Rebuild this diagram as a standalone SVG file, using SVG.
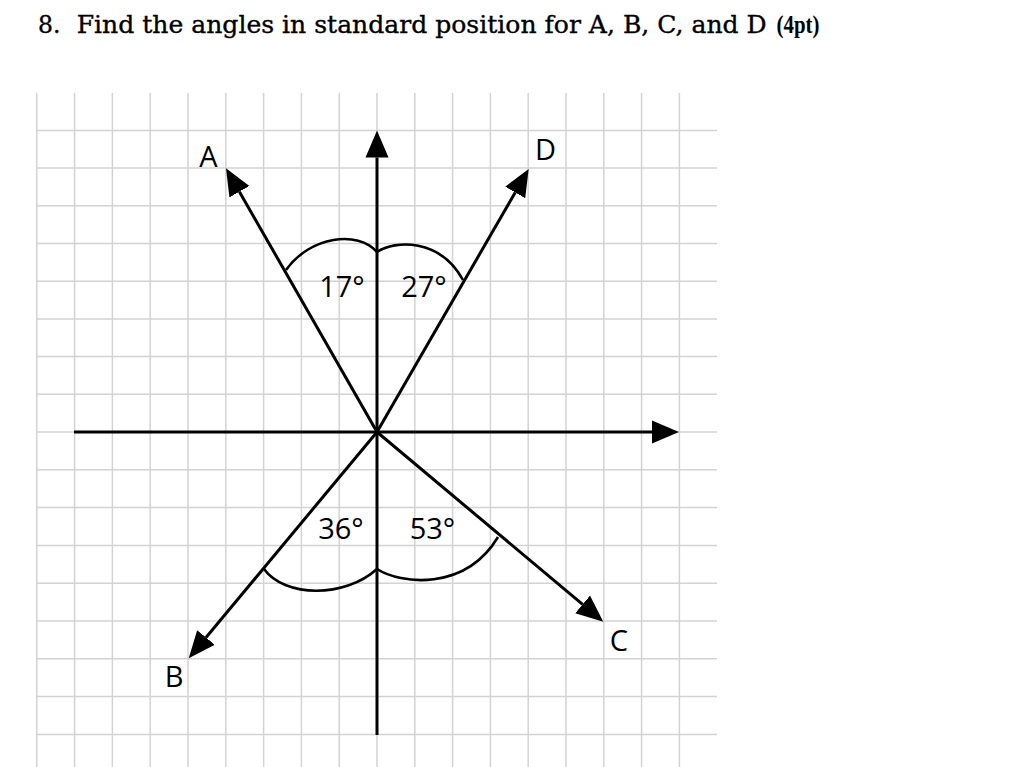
<svg xmlns="http://www.w3.org/2000/svg" width="1024" height="767" viewBox="0 0 1024 767">
<style>
.grid line{stroke:#d3d3d3;stroke-width:1.5}
.axis{stroke:#000;stroke-width:3;fill:none}
.arc{stroke:#000;stroke-width:2.6;fill:none}
.lbl{font-family:"Open Sans","Liberation Sans",sans-serif;font-size:29px;fill:#000;text-anchor:middle}
.title{font-family:"DejaVu Serif","Liberation Serif",serif;font-size:23.5px;fill:#000;stroke:#000;stroke-width:0.35}
.bold{font-family:"Liberation Serif","DejaVu Serif",serif;font-size:26px;font-weight:bold;fill:#000}
</style>
<defs>
<marker id="arr" markerUnits="userSpaceOnUse" markerWidth="30" markerHeight="26" refX="0" refY="12" orient="auto" viewBox="0 0 30 24">
<path d="M0,0.5 L27,12 L0,23.5 z" fill="#000"/>
</marker>
</defs>
<rect width="1024" height="767" fill="#fff"/>
<g id="title">
<text class="title" x="38" y="33">8.</text>
<text class="title" x="76.7" y="33" textLength="690" lengthAdjust="spacingAndGlyphs">Find the angles in standard position for A, B, C, and D</text>
<text class="bold" x="776.5" y="33" textLength="43" lengthAdjust="spacingAndGlyphs">(4pt)</text>
</g>
<g id="grid" class="grid">
<line x1="36.8" y1="93" x2="36.8" y2="767"/>
<line x1="74.6" y1="93" x2="74.6" y2="767"/>
<line x1="112.4" y1="93" x2="112.4" y2="767"/>
<line x1="150.2" y1="93" x2="150.2" y2="767"/>
<line x1="188" y1="93" x2="188" y2="767"/>
<line x1="225.8" y1="93" x2="225.8" y2="767"/>
<line x1="263.6" y1="93" x2="263.6" y2="767"/>
<line x1="301.4" y1="93" x2="301.4" y2="767"/>
<line x1="339.2" y1="93" x2="339.2" y2="767"/>
<line x1="377" y1="93" x2="377" y2="767"/>
<line x1="414.8" y1="93" x2="414.8" y2="767"/>
<line x1="452.6" y1="93" x2="452.6" y2="767"/>
<line x1="490.4" y1="93" x2="490.4" y2="767"/>
<line x1="528.2" y1="93" x2="528.2" y2="767"/>
<line x1="566" y1="93" x2="566" y2="767"/>
<line x1="603.8" y1="93" x2="603.8" y2="767"/>
<line x1="641.6" y1="93" x2="641.6" y2="767"/>
<line x1="679.4" y1="93" x2="679.4" y2="767"/>
<line x1="37" y1="130.4" x2="717" y2="130.4"/>
<line x1="37" y1="168.1" x2="717" y2="168.1"/>
<line x1="37" y1="205.8" x2="717" y2="205.8"/>
<line x1="37" y1="243.5" x2="717" y2="243.5"/>
<line x1="37" y1="281.2" x2="717" y2="281.2"/>
<line x1="37" y1="318.9" x2="717" y2="318.9"/>
<line x1="37" y1="356.6" x2="717" y2="356.6"/>
<line x1="37" y1="394.3" x2="717" y2="394.3"/>
<line x1="37" y1="432" x2="717" y2="432"/>
<line x1="37" y1="469.8" x2="717" y2="469.8"/>
<line x1="37" y1="507.6" x2="717" y2="507.6"/>
<line x1="37" y1="545.4" x2="717" y2="545.4"/>
<line x1="37" y1="583.2" x2="717" y2="583.2"/>
<line x1="37" y1="621" x2="717" y2="621"/>
<line x1="37" y1="658.8" x2="717" y2="658.8"/>
<line x1="37" y1="696.6" x2="717" y2="696.6"/>
<line x1="37" y1="734.4" x2="717" y2="734.4"/>
</g>
<g id="connectors">
<line id="x-axis" class="axis" x1="74" y1="432" x2="652" y2="432" marker-end="url(#arr)"/>
<line id="y-axis" class="axis" x1="377" y1="735" x2="377" y2="157.5" marker-end="url(#arr)"/>
<line id="ray-A" class="axis" x1="377" y1="432" x2="239.4" y2="191.7" marker-end="url(#arr)"/>
<line id="ray-D" class="axis" x1="377" y1="432" x2="515.2" y2="192.4" marker-end="url(#arr)"/>
<line id="ray-B" class="axis" x1="377" y1="432" x2="206" y2="637.5" marker-end="url(#arr)"/>
<line id="ray-C" class="axis" x1="377" y1="432" x2="582.6" y2="604.4" marker-end="url(#arr)"/>
<path class="arc" d="M286,270 C310,236 358,230 377,252"/>
<path class="arc" d="M377,252 C395,240 440,238 463,280"/>
<path class="arc" d="M264,569 C285,598 345,598 377,569"/>
<path class="arc" d="M377,569 C400,584 465,592 498,537"/>
</g>
<g id="label-A"><text class="lbl" x="208.5" y="166.7">A</text></g>
<g id="label-D"><text class="lbl" x="545.5" y="160">D</text></g>
<g id="label-B"><text class="lbl" x="174" y="687">B</text></g>
<g id="label-C"><text class="lbl" x="619" y="651">C</text></g>
<g id="angle-17"><text class="lbl" x="342" y="297">17°</text></g>
<g id="angle-27"><text class="lbl" x="424" y="297">27°</text></g>
<g id="angle-36"><text class="lbl" x="341" y="539">36°</text></g>
<g id="angle-53"><text class="lbl" x="432.5" y="539">53°</text></g>
</svg>
